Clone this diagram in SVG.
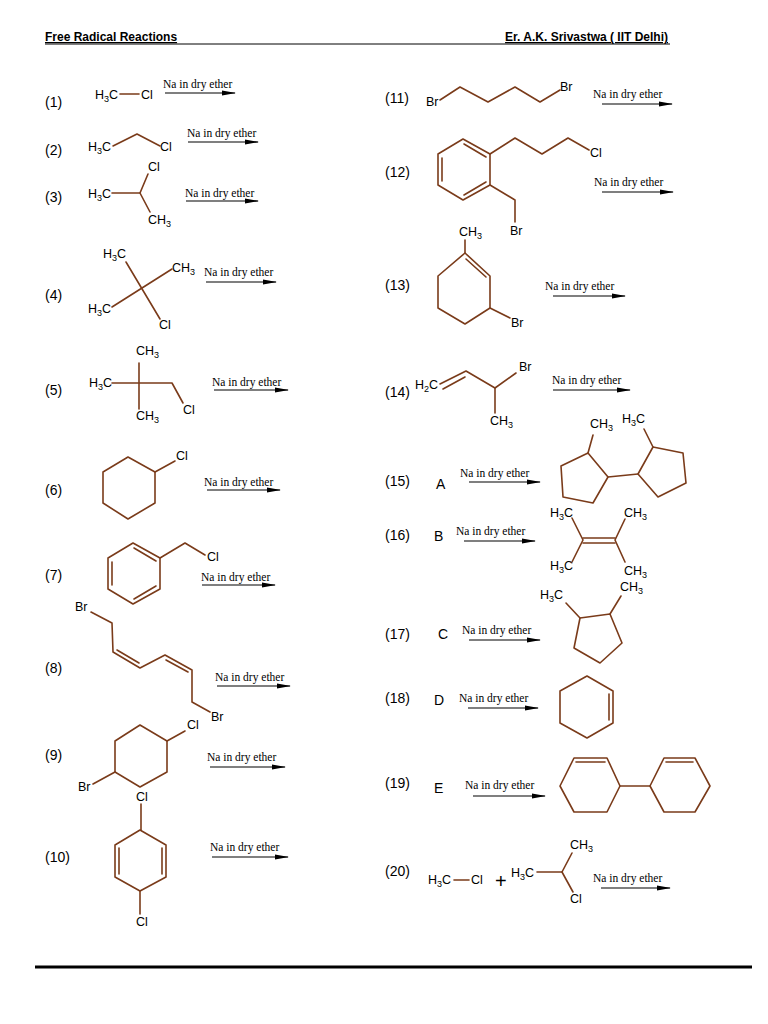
<svg xmlns="http://www.w3.org/2000/svg" width="768" height="1024" viewBox="0 0 768 1024">
<style>
.b{stroke:#7a3b1a;stroke-width:1.6;fill:none;stroke-linecap:round;stroke-linejoin:round}
.t{font-family:"Liberation Sans",Arial,sans-serif;font-size:12.5px;fill:#000}
.s{font-size:9px}
.n{font-family:"Liberation Sans",Arial,sans-serif;font-size:14px;fill:#000}
.r{font-family:"Liberation Serif","Times New Roman",serif;font-size:11.5px;fill:#000}
.a{stroke:#000;stroke-width:1.1;marker-end:url(#ah)}
.h{font-family:"Liberation Sans",Arial,sans-serif;font-size:12px;font-weight:bold;text-decoration:underline}
</style>
<defs>
<marker id="ah" markerWidth="14" markerHeight="6" refX="13" refY="3" orient="auto" markerUnits="userSpaceOnUse"><path d="M0,0.5 L14,3 L0,5.5 Z" fill="#000"/></marker>
</defs>
<rect width="768" height="1024" fill="#fff"/>
<g id="header">
<text class="h" x="45" y="41">Free Radical Reactions</text>
<text class="h" x="668" y="41" text-anchor="end">Er. A.K. Srivastwa ( IIT Delhi)</text>
<line x1="45" y1="44" x2="670" y2="44" stroke="#000" stroke-width="1"/>
<line x1="35" y1="967" x2="752" y2="967" stroke="#000" stroke-width="3"/>
</g>
<g id="connectors">
<line class="a" x1="165" y1="93" x2="235" y2="93"/>
<line class="a" x1="188" y1="142" x2="258" y2="142"/>
<line class="a" x1="186" y1="201" x2="258" y2="201"/>
<line class="a" x1="206" y1="282" x2="276" y2="282"/>
<line class="a" x1="214" y1="390" x2="288" y2="390"/>
<line class="a" x1="207" y1="490" x2="280" y2="490"/>
<line class="a" x1="202" y1="585" x2="275" y2="585"/>
<line class="a" x1="217" y1="686" x2="290" y2="686"/>
<line class="a" x1="210" y1="767" x2="285" y2="767"/>
<line class="a" x1="212" y1="857" x2="288" y2="857"/>
<line class="a" x1="602" y1="104" x2="672" y2="104"/>
<line class="a" x1="602" y1="192" x2="673" y2="192"/>
<line class="a" x1="553" y1="296" x2="625" y2="296"/>
<line class="a" x1="553" y1="390" x2="630" y2="390"/>
<line class="a" x1="469" y1="482" x2="540" y2="482"/>
<line class="a" x1="464" y1="541" x2="535" y2="541"/>
<line class="a" x1="469" y1="640" x2="540" y2="640"/>
<line class="a" x1="468" y1="708" x2="538" y2="708"/>
<line class="a" x1="473" y1="796" x2="545" y2="796"/>
<line class="a" x1="601" y1="888" x2="670" y2="888"/>
</g>
<g id="r1">
<text class="n" x="45" y="107">(1)</text>
<text class="t" x="95" y="99">H<tspan class="s" dy="3">3</tspan><tspan dy="-3">C</tspan></text>
<line class="b" x1="120" y1="94" x2="139" y2="94"/>
<text class="t" x="141" y="99">Cl</text>
<text class="r" x="163" y="88">Na in dry ether</text>
</g>
<g id="r2">
<text class="n" x="45" y="155">(2)</text>
<text class="t" x="88" y="151">H<tspan class="s" dy="3">3</tspan><tspan dy="-3">C</tspan></text>
<polyline class="b" points="113,146 137,134 160,146"/>
<text class="t" x="160" y="151">Cl</text>
<text class="r" x="187" y="137">Na in dry ether</text>
</g>
<g id="r3">
<text class="n" x="45" y="202">(3)</text>
<text class="t" x="88" y="198">H<tspan class="s" dy="3">3</tspan><tspan dy="-3">C</tspan></text>
<line class="b" x1="112" y1="193" x2="140" y2="193" stroke-width="2"/>
<polyline class="b" points="148,174 140,193 150,212"/>
<text class="t" x="148" y="171">Cl</text>
<text class="t" x="148" y="224">CH<tspan class="s" dy="3">3</tspan></text>
<text class="r" x="185" y="197">Na in dry ether</text>
</g>
<g id="r4">
<text class="n" x="45" y="300">(4)</text>
<text class="t" x="103" y="258">H<tspan class="s" dy="3">3</tspan><tspan dy="-3">C</tspan></text>
<text class="t" x="172" y="272">CH<tspan class="s" dy="3">3</tspan></text>
<text class="t" x="88" y="313">H<tspan class="s" dy="3">3</tspan><tspan dy="-3">C</tspan></text>
<text class="t" x="159" y="329">Cl</text>
<line class="b" x1="126" y1="262" x2="160" y2="319"/>
<line class="b" x1="112" y1="307" x2="172" y2="269"/>
<text class="r" x="204" y="276">Na in dry ether</text>
</g>
<g id="r5">
<text class="n" x="45" y="395">(5)</text>
<text class="t" x="136" y="355">CH<tspan class="s" dy="3">3</tspan></text>
<text class="t" x="89" y="387">H<tspan class="s" dy="3">3</tspan><tspan dy="-3">C</tspan></text>
<text class="t" x="136" y="420">CH<tspan class="s" dy="3">3</tspan></text>
<text class="t" x="183" y="414">Cl</text>
<polyline class="b" points="112,383 172,383 183,403" stroke-width="2"/>
<line class="b" x1="139" y1="363" x2="139" y2="409"/>
<text class="r" x="212" y="386">Na in dry ether</text>
</g>
<g id="r6">
<text class="n" x="45" y="495">(6)</text>
<polygon class="b" points="128,457 155,472 155,503 128,519 103,503 103,472"/>
<line class="b" x1="155" y1="472" x2="175" y2="461"/>
<text class="t" x="176" y="460">Cl</text>
<text class="r" x="204" y="486">Na in dry ether</text>
</g>
<g id="r7">
<text class="n" x="45" y="580">(7)</text>
<polygon class="b" points="133,543 160,558 160,589 133,604 108,589 108,558"/>
<line class="b" x1="134" y1="548" x2="156" y2="561"/>
<line class="b" x1="112" y1="562" x2="112" y2="585"/>
<line class="b" x1="134" y1="599" x2="156" y2="586"/>
<polyline class="b" points="160,558 185,543 205,555"/>
<text class="t" x="207" y="561">Cl</text>
<text class="r" x="201" y="581">Na in dry ether</text>
</g>
<g id="r8">
<text class="n" x="45" y="673">(8)</text>
<text class="t" x="75" y="611">Br</text>
<polyline class="b" points="91,612 112,623 113,652 140,668 165,655 192,670 192,702 210,712"/>
<line class="b" x1="117" y1="650" x2="139" y2="663"/>
<line class="b" x1="166" y1="660" x2="188" y2="672"/>
<text class="t" x="211" y="721">Br</text>
<text class="r" x="215" y="681">Na in dry ether</text>
</g>
<g id="r9">
<text class="n" x="45" y="760">(9)</text>
<polygon class="b" points="140,725 167,741 167,772 140,787 115,772 115,741"/>
<line class="b" x1="167" y1="741" x2="185" y2="731"/>
<text class="t" x="187" y="729">Cl</text>
<line class="b" x1="115" y1="772" x2="93" y2="784"/>
<text class="t" x="78" y="791">Br</text>
<text class="r" x="207" y="761">Na in dry ether</text>
</g>
<g id="r10">
<text class="n" x="45" y="862">(10)</text>
<text class="t" x="136" y="801">Cl</text>
<line class="b" x1="141" y1="804" x2="141" y2="830"/>
<polygon class="b" points="140,830 166,845 166,877 140,891 115,877 115,845"/>
<line class="b" x1="119" y1="848" x2="119" y2="874"/>
<line class="b" x1="162" y1="848" x2="162" y2="874"/>
<line class="b" x1="140" y1="891" x2="140" y2="914"/>
<text class="t" x="136" y="926">Cl</text>
<text class="r" x="210" y="851">Na in dry ether</text>
</g>
<g id="r11">
<text class="n" x="385" y="103">(11)</text>
<text class="t" x="426" y="106">Br</text>
<polyline class="b" points="440,100 460,87 488,102 515,87 540,102 560,90"/>
<text class="t" x="560" y="91">Br</text>
<text class="r" x="593" y="98">Na in dry ether</text>
</g>
<g id="r12">
<text class="n" x="385" y="177">(12)</text>
<polygon class="b" points="463,139 490,154 490,185 463,200 438,185 438,154"/>
<line class="b" x1="464" y1="144" x2="486" y2="157"/>
<line class="b" x1="442" y1="158" x2="442" y2="181"/>
<line class="b" x1="464" y1="195" x2="486" y2="182"/>
<polyline class="b" points="490,154 515,138 542,154 568,138 589,150"/>
<text class="t" x="590" y="157">Cl</text>
<polyline class="b" points="490,185 515,200 515,222"/>
<text class="t" x="510" y="235">Br</text>
<text class="r" x="594" y="186">Na in dry ether</text>
</g>
<g id="r13">
<text class="n" x="385" y="290">(13)</text>
<text class="t" x="459" y="236">CH<tspan class="s" dy="3">3</tspan></text>
<line class="b" x1="465" y1="240" x2="465" y2="253"/>
<polygon class="b" points="465,253 490,276 490,308 465,324 438,308 438,276"/>
<line class="b" x1="466" y1="259" x2="486" y2="277"/>
<line class="b" x1="490" y1="308" x2="510" y2="318"/>
<text class="t" x="511" y="327">Br</text>
<text class="r" x="545" y="290">Na in dry ether</text>
</g>
<g id="r14">
<text class="n" x="385" y="397">(14)</text>
<text class="t" x="415" y="389">H<tspan class="s" dy="3">2</tspan><tspan dy="-3">C</tspan></text>
<polyline class="b" points="440,384 466,371 495,388 516,373"/>
<line class="b" x1="443" y1="389" x2="465" y2="377"/>
<line class="b" x1="495" y1="388" x2="495" y2="413" stroke-width="2.6"/>
<text class="t" x="519" y="371">Br</text>
<text class="t" x="490" y="425">CH<tspan class="s" dy="3">3</tspan></text>
<text class="r" x="552" y="384">Na in dry ether</text>
</g>
<g id="r15">
<text class="n" x="385" y="486">(15)</text>
<text class="n" x="436" y="489">A</text>
<text class="r" x="460" y="477">Na in dry ether</text>
<polygon class="b" points="588,453 608,477 593,503 563,497 561,466"/>
<line class="b" x1="588" y1="453" x2="593" y2="435"/>
<text class="t" x="590" y="428">CH<tspan class="s" dy="3">3</tspan></text>
<line class="b" x1="608" y1="477" x2="638" y2="474"/>
<polygon class="b" points="638,474 653,447 683,453 686,483 658,497"/>
<line class="b" x1="653" y1="447" x2="644" y2="429"/>
<text class="t" x="622" y="423">H<tspan class="s" dy="3">3</tspan><tspan dy="-3">C</tspan></text>
</g>
<g id="r16">
<text class="n" x="385" y="540">(16)</text>
<text class="n" x="434" y="541">B</text>
<text class="r" x="456" y="535">Na in dry ether</text>
<text class="t" x="550" y="517">H<tspan class="s" dy="3">3</tspan><tspan dy="-3">C</tspan></text>
<text class="t" x="624" y="517">CH<tspan class="s" dy="3">3</tspan></text>
<text class="t" x="550" y="570">H<tspan class="s" dy="3">3</tspan><tspan dy="-3">C</tspan></text>
<text class="t" x="624" y="575">CH<tspan class="s" dy="3">3</tspan></text>
<line class="b" x1="583" y1="538" x2="615" y2="538"/>
<line class="b" x1="583" y1="543" x2="615" y2="543"/>
<polyline class="b" points="572,518 583,540 572,562"/>
<polyline class="b" points="625,519 615,540 625,562"/>
</g>
<g id="r17">
<text class="n" x="385" y="639">(17)</text>
<text class="n" x="438" y="639">C</text>
<text class="r" x="462" y="634">Na in dry ether</text>
<polygon class="b" points="580,618 610,614 622,643 600,663 574,648"/>
<line class="b" x1="580" y1="618" x2="566" y2="603"/>
<line class="b" x1="610" y1="614" x2="621" y2="596"/>
<text class="t" x="540" y="599">H<tspan class="s" dy="3">3</tspan><tspan dy="-3">C</tspan></text>
<text class="t" x="620" y="591">CH<tspan class="s" dy="3">3</tspan></text>
</g>
<g id="r18">
<text class="n" x="385" y="703">(18)</text>
<text class="n" x="434" y="705">D</text>
<text class="r" x="459" y="702">Na in dry ether</text>
<polygon class="b" points="587,676 613,691 613,723 587,738 560,723 560,691"/>
<line class="b" x1="609" y1="694" x2="609" y2="720"/>
</g>
<g id="r19">
<text class="n" x="385" y="788">(19)</text>
<text class="n" x="434" y="793">E</text>
<text class="r" x="465" y="789">Na in dry ether</text>
<polygon class="b" points="574,758 607,758 620,786 607,812 574,812 560,786"/>
<line class="b" x1="576" y1="762" x2="605" y2="762"/>
<line class="b" x1="620" y1="786" x2="650" y2="786"/>
<polygon class="b" points="650,786 664,758 695,758 710,786 695,812 664,812"/>
<line class="b" x1="666" y1="762" x2="693" y2="762"/>
</g>
<g id="r20">
<text class="n" x="385" y="876">(20)</text>
<text class="t" x="428" y="884">H<tspan class="s" dy="3">3</tspan><tspan dy="-3">C</tspan></text>
<line class="b" x1="454" y1="880" x2="469" y2="880"/>
<text class="t" x="471" y="884">Cl</text>
<text class="n" x="495" y="888" style="font-size:20px">+</text>
<text class="t" x="511" y="877">H<tspan class="s" dy="3">3</tspan><tspan dy="-3">C</tspan></text>
<polyline class="b" points="537,872 562,872 572,853"/>
<line class="b" x1="562" y1="872" x2="573" y2="892"/>
<text class="t" x="570" y="849">CH<tspan class="s" dy="3">3</tspan></text>
<text class="t" x="570" y="903">Cl</text>
<text class="r" x="593" y="882">Na in dry ether</text>
</g>
</svg>
